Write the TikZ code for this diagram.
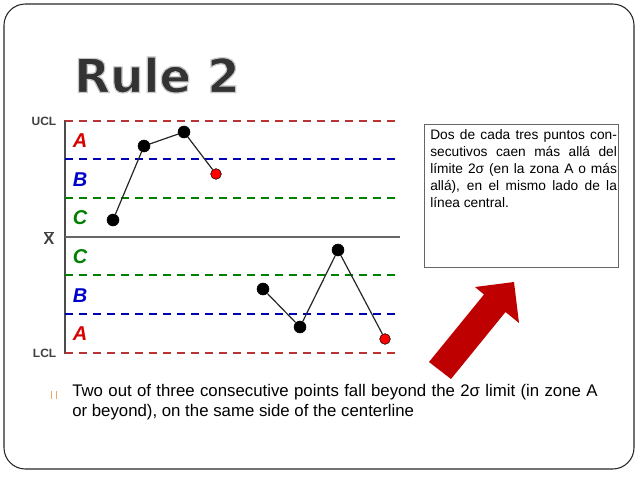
\documentclass[tikz,border=0pt]{standalone}
\usepackage{fontspec}
\setmainfont{Liberation Sans}
\newfontfamily\titlefont{DejaVu Sans}
\begin{document}
\begin{tikzpicture}[x=0.75pt,y=-0.75pt,
  lim/.style={dashed,dash pattern=on 6pt off 4.5pt,line width=1.6pt},
  pt/.style={circle,fill=black,draw=black,inner sep=0pt,minimum size=9pt},
  redpt/.style={circle,fill=red,draw=black,inner sep=0pt,minimum size=8pt},
  zone/.style={font=\bfseries\itshape\fontsize{15}{15}\selectfont},
  axl/.style={font=\bfseries\fontsize{9}{9}\selectfont,text=black!75,anchor=east},
  seg/.style={line width=0.9pt,black!85}]
\useasboundingbox (0,0) rectangle (638,479);
\draw[line width=0.8pt,black!85,rounded corners=16pt] (4,4) rectangle (634,469);
% title
\node[font=\titlefont\bfseries\fontsize{35}{35}\selectfont,text=black!80,
  preaction={draw=none}] (title) at (157,75)
  {\special{pdf:literal direct 2 Tr 0.9 w 0.78 0.78 0.78 RG}Rule 2\special{pdf:literal direct 0 Tr}};
% chart
\draw[line width=1.3pt,black!70] (65,120) -- (65,354);
\draw[lim,red!65!black!80] (65,121) -- (398,121);
\draw[lim,blue!70!black] (65,159) -- (398,159);
\draw[lim,green!50!black] (65,198) -- (398,198);
\draw[line width=1.3pt,black!60] (65,237) -- (400,237);
\draw[lim,green!50!black] (65,275) -- (398,275);
\draw[lim,blue!70!black] (65,314) -- (398,314);
\draw[lim,red!65!black!80] (65,353) -- (398,353);
\node[axl] (ucl) at (61,121) {UCL};
\node[axl] (lcl) at (61,353) {LCL};
\node[axl,font=\bfseries\fontsize{12}{12}\selectfont] (xbar) at (59,238) {$\overline{\textbf{X}}$};
\node[zone,text=red!85!black] (za1) at (80,141) {A};
\node[zone,text=blue!80!black] (zb1) at (80,180) {B};
\node[zone,text=green!50!black] (zc1) at (80,218) {C};
\node[zone,text=green!50!black] (zc2) at (80,257) {C};
\node[zone,text=blue!80!black] (zb2) at (80,296) {B};
\node[zone,text=red!85!black] (za2) at (80,334) {A};
\node[pt] (p1) at (113,220) {};
\node[pt] (p2) at (144,146) {};
\node[pt] (p3) at (184,132) {};
\node[redpt] (p4) at (216,174) {};
\node[pt] (q1) at (263,289) {};
\node[pt] (q2) at (300,327) {};
\node[pt] (q3) at (338,250) {};
\node[redpt] (q4) at (385,339) {};
\draw[seg] (p1) -- (p2) -- (p3) -- (p4);
\draw[seg] (q1) -- (q2) -- (q3) -- (q4);
% box
\node[draw=black!60,line width=0.6pt,minimum width=145.5pt,minimum height=107pt,anchor=north west,inner sep=0pt] (box) at (424,124) {};
\node[anchor=north west,text width=140pt,align=justify,inner sep=0pt,font=\fontsize{10.3}{12.8}\selectfont] (boxtext) at (430,129)
 {\hyphenpenalty=10000 Dos de cada tres puntos consecutivos caen más allá del límite 2σ (en la zona A o más allá), en el mismo lado de la línea central.};
% arrow
\fill[red!75!black] (429,362) -- (484,294.5) -- (475,287) -- (514,282) -- (519,323) -- (505.5,312) -- (451,379) -- cycle;
% bullet
\draw[line width=0.7pt,orange!60!brown!70] (51,391) -- (51,399) (56,391) -- (56,399);
\node[anchor=north west,text width=394pt,align=justify,inner sep=0pt,font=\fontsize{12.6}{15}\selectfont] (bullet) at (72,384)
 {\hyphenpenalty=10000 Two out of three consecutive points fall beyond the 2σ limit (in zone A or beyond), on the same side of the centerline};
\end{tikzpicture}
\end{document}
